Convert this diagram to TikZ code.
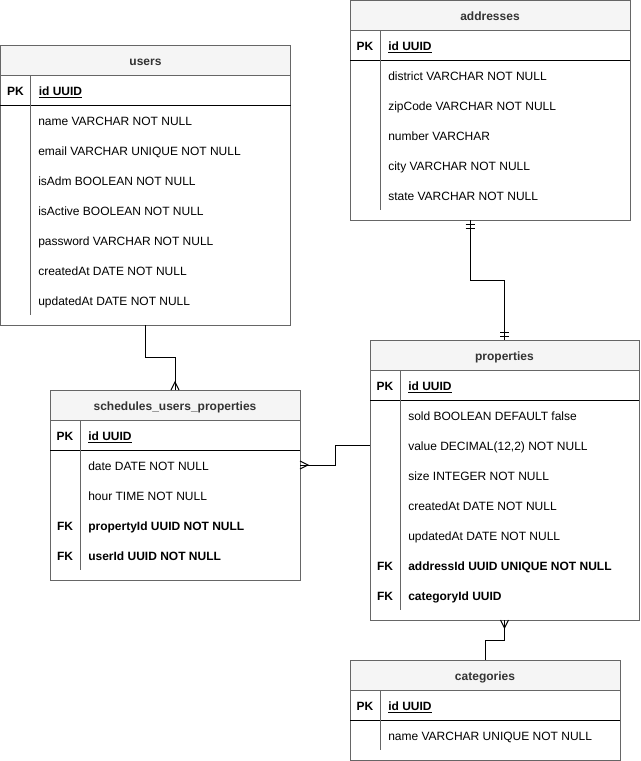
\documentclass[tikz,border=0pt]{standalone}
\usepackage{fontspec}
\setmainfont{Liberation Sans}
\usetikzlibrary{calc}
\definecolor{bordc}{HTML}{666666}
\definecolor{hdrfill}{HTML}{F5F5F5}
\definecolor{hdrtext}{HTML}{333333}
\tikzset{
  x=0.75pt, y=-0.75pt,
  tbl/.style={draw=bordc, line width=0.75pt, rectangle, anchor=north west, inner sep=0pt, outer sep=0pt},
  txt/.style={inner sep=0pt, text height=7pt, text depth=0.5pt, yshift=-0.7pt, font=\fontsize{9}{11}\selectfont},
  fld/.style={txt, anchor=west, text=black},
  bfld/.style={fld, font=\fontsize{9}{11}\selectfont\bfseries},
  keyc/.style={txt, anchor=center, font=\fontsize{9}{11}\selectfont\bfseries},
  ttl/.style={txt, anchor=center, text=hdrtext, font=\fontsize{9}{11}\selectfont\bfseries},
  rel/.style={draw=black, line width=0.75pt},
  sep/.style={draw=bordc, line width=0.75pt},
}
% name, x, y, w, h, title
\newcommand\ertable[6]{%
  \fill[hdrfill] (#2,#3) rectangle ++(#4,30);
  \node[tbl, minimum width=#4*0.75pt, minimum height=#5*0.75pt] (#1) at (#2,#3) {};
  \draw[sep] (#2,#3+30) -- ++(#4,0);
  \draw[black, line width=0.75pt] (#2,#3+60) -- ++(#4,0);
  \draw[sep] (#2+30,#3+30) -- (#2+30,#3+#5-10);
  \node[ttl] (#1-title) at (#2+#4/2,#3+15) {#6};
  \node[keyc] (#1-pk) at (#2+15,#3+45) {PK};
  \node[bfld] (#1-id) at (#2+38,#3+45) {\underline{id UUID}};
}
\begin{document}
\begin{tikzpicture}
\useasboundingbox (0,0) rectangle (640,761);

% users
\ertable{users}{0.5}{45}{290}{280}{users}
\node[fld] (u1) at (38,120) {name VARCHAR NOT NULL};
\node[fld] (u2) at (38,150) {email VARCHAR UNIQUE NOT NULL};
\node[fld] (u3) at (38,180) {isAdm BOOLEAN NOT NULL};
\node[fld] (u4) at (38,210) {isActive BOOLEAN NOT NULL};
\node[fld] (u5) at (38,240) {password VARCHAR NOT NULL};
\node[fld] (u6) at (38,270) {createdAt DATE NOT NULL};
\node[fld] (u7) at (38,300) {updatedAt DATE NOT NULL};

% addresses
\ertable{addr}{350}{0.5}{280}{219.5}{addresses}
\node[fld] (a1) at (388,75) {district VARCHAR NOT NULL};
\node[fld] (a2) at (388,105) {zipCode VARCHAR NOT NULL};
\node[fld] (a3) at (388,135) {number VARCHAR};
\node[fld] (a4) at (388,165) {city VARCHAR NOT NULL};
\node[fld] (a5) at (388,195) {state VARCHAR NOT NULL};

% schedules_users_properties
\ertable{sched}{50}{390}{250}{190}{schedules\_users\_properties}
\node[fld] (s1) at (88,465) {date DATE NOT NULL};
\node[fld] (s2) at (88,495) {hour TIME NOT NULL};
\node[keyc] (s3k) at (65,525) {FK};
\node[bfld] (s3) at (88,525) {propertyId UUID NOT NULL};
\node[keyc] (s4k) at (65,555) {FK};
\node[bfld] (s4) at (88,555) {userId UUID NOT NULL};

% properties
\ertable{props}{370}{340}{269}{280}{properties}
\node[fld] (p1) at (408,415) {sold BOOLEAN DEFAULT false};
\node[fld] (p2) at (408,445) {value DECIMAL(12,2) NOT NULL};
\node[fld] (p3) at (408,475) {size INTEGER NOT NULL};
\node[fld] (p4) at (408,505) {createdAt DATE NOT NULL};
\node[fld] (p5) at (408,535) {updatedAt DATE NOT NULL};
\node[keyc] (p6k) at (385,565) {FK};
\node[bfld] (p6) at (408,565) {addressId UUID UNIQUE NOT NULL};
\node[keyc] (p7k) at (385,595) {FK};
\node[bfld] (p7) at (408,595) {categoryId UUID};

% categories
\ertable{cat}{350}{660}{270}{100}{categories}
\node[fld] (c1) at (388,735) {name VARCHAR UNIQUE NOT NULL};

% users -> schedules (many at schedules)
\draw[rel] (users.south) -- ++(0,32.5) -| (sched.north);
\draw[rel] ($(sched.north)+(-4,0)$) -- ($(sched.north)+(0,-8)$) -- ($(sched.north)+(4,0)$);

% properties -> schedules (many at schedules)
\coordinate (se) at ($(sched.north east)+(0,75)$);
\coordinate (pw) at ($(props.north west)+(0,105)$);
\draw[rel] (se) -- ++(35,0) |- (pw);
\draw[rel] ($(se)+(0,-4)$) -- ($(se)+(8,0)$) -- ($(se)+(0,4)$);

% addresses -> properties (one and only one both ends)
\coordinate (as) at ($(addr.south west)+(120,0)$);
\draw[rel] (as) -- ++(0,60) -| (props.north);
\draw[rel] ($(as)+(-4.5,4)$) -- ++(9,0);
\draw[rel] ($(as)+(-4.5,8)$) -- ++(9,0);
\draw[rel] ($(props.north)+(-4.5,-4)$) -- ++(9,0);
\draw[rel] ($(props.north)+(-4.5,-8)$) -- ++(9,0);

% categories -> properties (many at properties)
\draw[rel] (props.south) -- ++(0,20) -| (cat.north);
\draw[rel] ($(props.south)+(-4,0)$) -- ($(props.south)+(0,8)$) -- ($(props.south)+(4,0)$);
\end{tikzpicture}
\end{document}
